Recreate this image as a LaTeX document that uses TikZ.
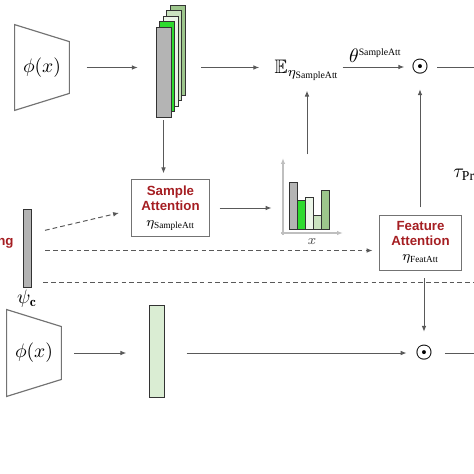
\documentclass[tikz,border=0pt]{standalone}
\usepackage{amsmath,amssymb,bm}
\usepackage{fontspec}
\newfontfamily\attfont{Liberation Sans}
\newfontfamily\wordfont{Liberation Serif}
\usetikzlibrary{arrows.meta,positioning,calc,fit}
\definecolor{attred}{HTML}{A51E22}
\definecolor{barGray}{HTML}{B4B4B4}
\definecolor{barBright}{HTML}{2EDB2E}
\definecolor{barPale}{HTML}{ECF6E8}
\definecolor{barLight}{HTML}{CAE3BF}
\definecolor{barMid}{HTML}{9DC68C}
\definecolor{protoGreen}{HTML}{DAEDD3}
\newcommand{\attname}[1]{\text{\wordfont\mdseries #1}}
\tikzset{
  arr/.style={-{Latex[length=3pt,width=2.4pt]}, black!65, line width=0.5pt},
  plainline/.style={black!65, line width=0.5pt},
  dasharr/.style={arr, dash pattern=on 2.4pt off 1.6pt},
  sepline/.style={plainline, dash pattern=on 2.4pt off 1.6pt},
  enc/.style={minimum width=9.72mm, minimum height=15.3mm, inner sep=0},
  encline/.style={draw=black!55, line width=0.6pt},
  featbar/.style={draw=black!80, line width=0.5pt, minimum width=2.7mm, minimum height=16.2mm, inner sep=0},
  attbox/.style={draw=black!55, line width=0.5pt, align=center, inner sep=0,
                 font=\attfont\bfseries\fontsize{6.8}{7.8}\selectfont, text=attred},
  odotnode/.style={inner sep=0},
}

\begin{document}
\begin{tikzpicture}[x=0.18mm, y=-0.18mm]
  \useasboundingbox (0,0) rectangle (474,474);
  % encoders
  \node[enc] (enctop) at (42,67.5) {$\phi(x)$};
  \node[enc, minimum height=15.5mm] (encbot) at (34,353) {$\phi(x)$};
  \foreach \e in {enctop,encbot}
    \draw[encline] (\e.north west) -- ($(\e.north east)+(0,17)$) -- ($(\e.south east)+(0,-17)$) -- (\e.south west) -- cycle;
  % stacked feature maps
  \foreach \i/\col in {4/barMid,3/barLight,2/barPale,1/barBright}
    \node[featbar, fill=\col] (f\i) at (163.5+3.5*\i, 72-5.5*\i) {};
  \node[featbar, fill=barGray] (f0) at (163.5,72) {};
  \node[featbar, fill=protoGreen, minimum height=16.4mm] (protobar) at (156.5,351.5) {};
  \node[inner sep=0] (expect) at (307,70) {$\mathbb{E}_{\eta_{\attname{SampleAtt}}}$};
  \node[odotnode] (dottop) at (420,67) {$\bm{\odot}$};
  \node[odotnode] (dotbot) at (424,353) {$\bm{\odot}$};
  \coordinate (rightA) at (480,67);
  % attention modules
  \node[attbox, minimum width=13.9mm, minimum height=10.1mm] (sampatt) at (170.5,208)
    {Sample\\Attention\\{\color{black}$\eta_{\attname{SampleAtt}}$}};
  \node[attbox, minimum width=14.9mm, minimum height=9.9mm] (featatt) at (420.5,242.5)
    {Feature\\Attention\\{\color{black}$\eta_{\attname{FeatAtt}}$}};
  % histogram
  \draw[black!25, line width=1.3pt, -{Latex[length=3pt]}] (283,235) -- (283,158);
  \draw[black!25, line width=1.3pt, -{Latex[length=3pt]}] (281,233) -- (343,233);
  \foreach \bx/\by/\col in {289/182/barGray, 297/200/barBright, 305/197/barPale, 313/215/barLight, 321/190/barMid}
    \draw[draw=black!80, line width=0.5pt, fill=\col] (\bx,229) rectangle (\bx+8,\by);
  \node[fit={(283,158) (343,233)}, inner sep=0] (hist) {};
  \node[font=\scriptsize, text=black!70, inner sep=0] (xlab) at (312,242) {$x$};
  % class vector
  \node[featbar, fill=barGray, minimum width=1.44mm, minimum height=14.2mm] (psic) at (27,248.5) {};
  \node[below=0.5pt of psic, inner sep=0] (psilab) {$\psi_{\mathbf{c}}$};
  \node[attbox, draw=none, anchor=east] (ngtxt) at (14,243) {ng};
  \node[anchor=west, inner sep=0] (tau) at (453,175) {$\tau_{\attname{Pr}}$};
  \coordinate (psiA) at ($(psic.east)+(0,2)$);
  \coordinate (psiB) at ($(psic.east)+(0,-15)$);
  \coordinate (sepL) at ($(psic.east)+(12,34)$);
  % top row
  \draw[arr, shorten <=3.1mm, shorten >=3.2mm] (enctop.east) -- (enctop.east -| f0.west);
  \draw[arr, shorten <=2.8mm, shorten >=2.7mm] (f4.east |- enctop) -- (expect.west |- enctop);
  \draw[arr, shorten <=0.5mm, shorten >=1.2mm] (expect.east |- dottop) -- (dottop.west)
    node[midway, above, inner sep=2pt, text=black] {$\theta^{\scriptscriptstyle\attname{SampleAtt}}$};
  \draw[plainline, shorten <=1.5mm] (dottop.east) -- (rightA);
  % middle
  \draw[arr, shorten <=0.5mm, shorten >=1.1mm] (f0.south) -- (f0.south |- sampatt.north);
  \draw[arr, shorten <=1.8mm, shorten >=2mm] (sampatt.east) -- (sampatt.east -| hist.west);
  \draw[arr, shorten <=0.6mm, shorten >=1.8mm] (expect.south |- hist.north) -- (expect.south);
  \draw[arr, shorten <=1.3mm, shorten >=2.6mm] (dottop |- featatt.north) -- (dottop.south);
  \draw[dasharr, shorten <=2.5mm, shorten >=2.3mm] (psiB) -- ($(sampatt.west)+(0,2)$);
  \draw[dasharr, shorten <=2.5mm, shorten >=1.1mm] (psiA) -- (psiA -| featatt.west);
  \draw[sepline] (sepL) -- (sepL -| rightA);
  % bottom row
  \draw[arr, shorten <=2.3mm, shorten >=4mm] (encbot.east) -- (encbot.east -| protobar.west);
  \draw[arr, shorten <=4mm, shorten >=1.5mm] (protobar.east |- dotbot) -- (dotbot.west);
  \draw[plainline, shorten <=2.1mm] (dotbot.east) -- (dotbot.east -| rightA);
  \draw[arr, shorten <=1.4mm, shorten >=2.4mm] (dotbot |- featatt.south) -- (dotbot.north);
\end{tikzpicture}
\end{document}
